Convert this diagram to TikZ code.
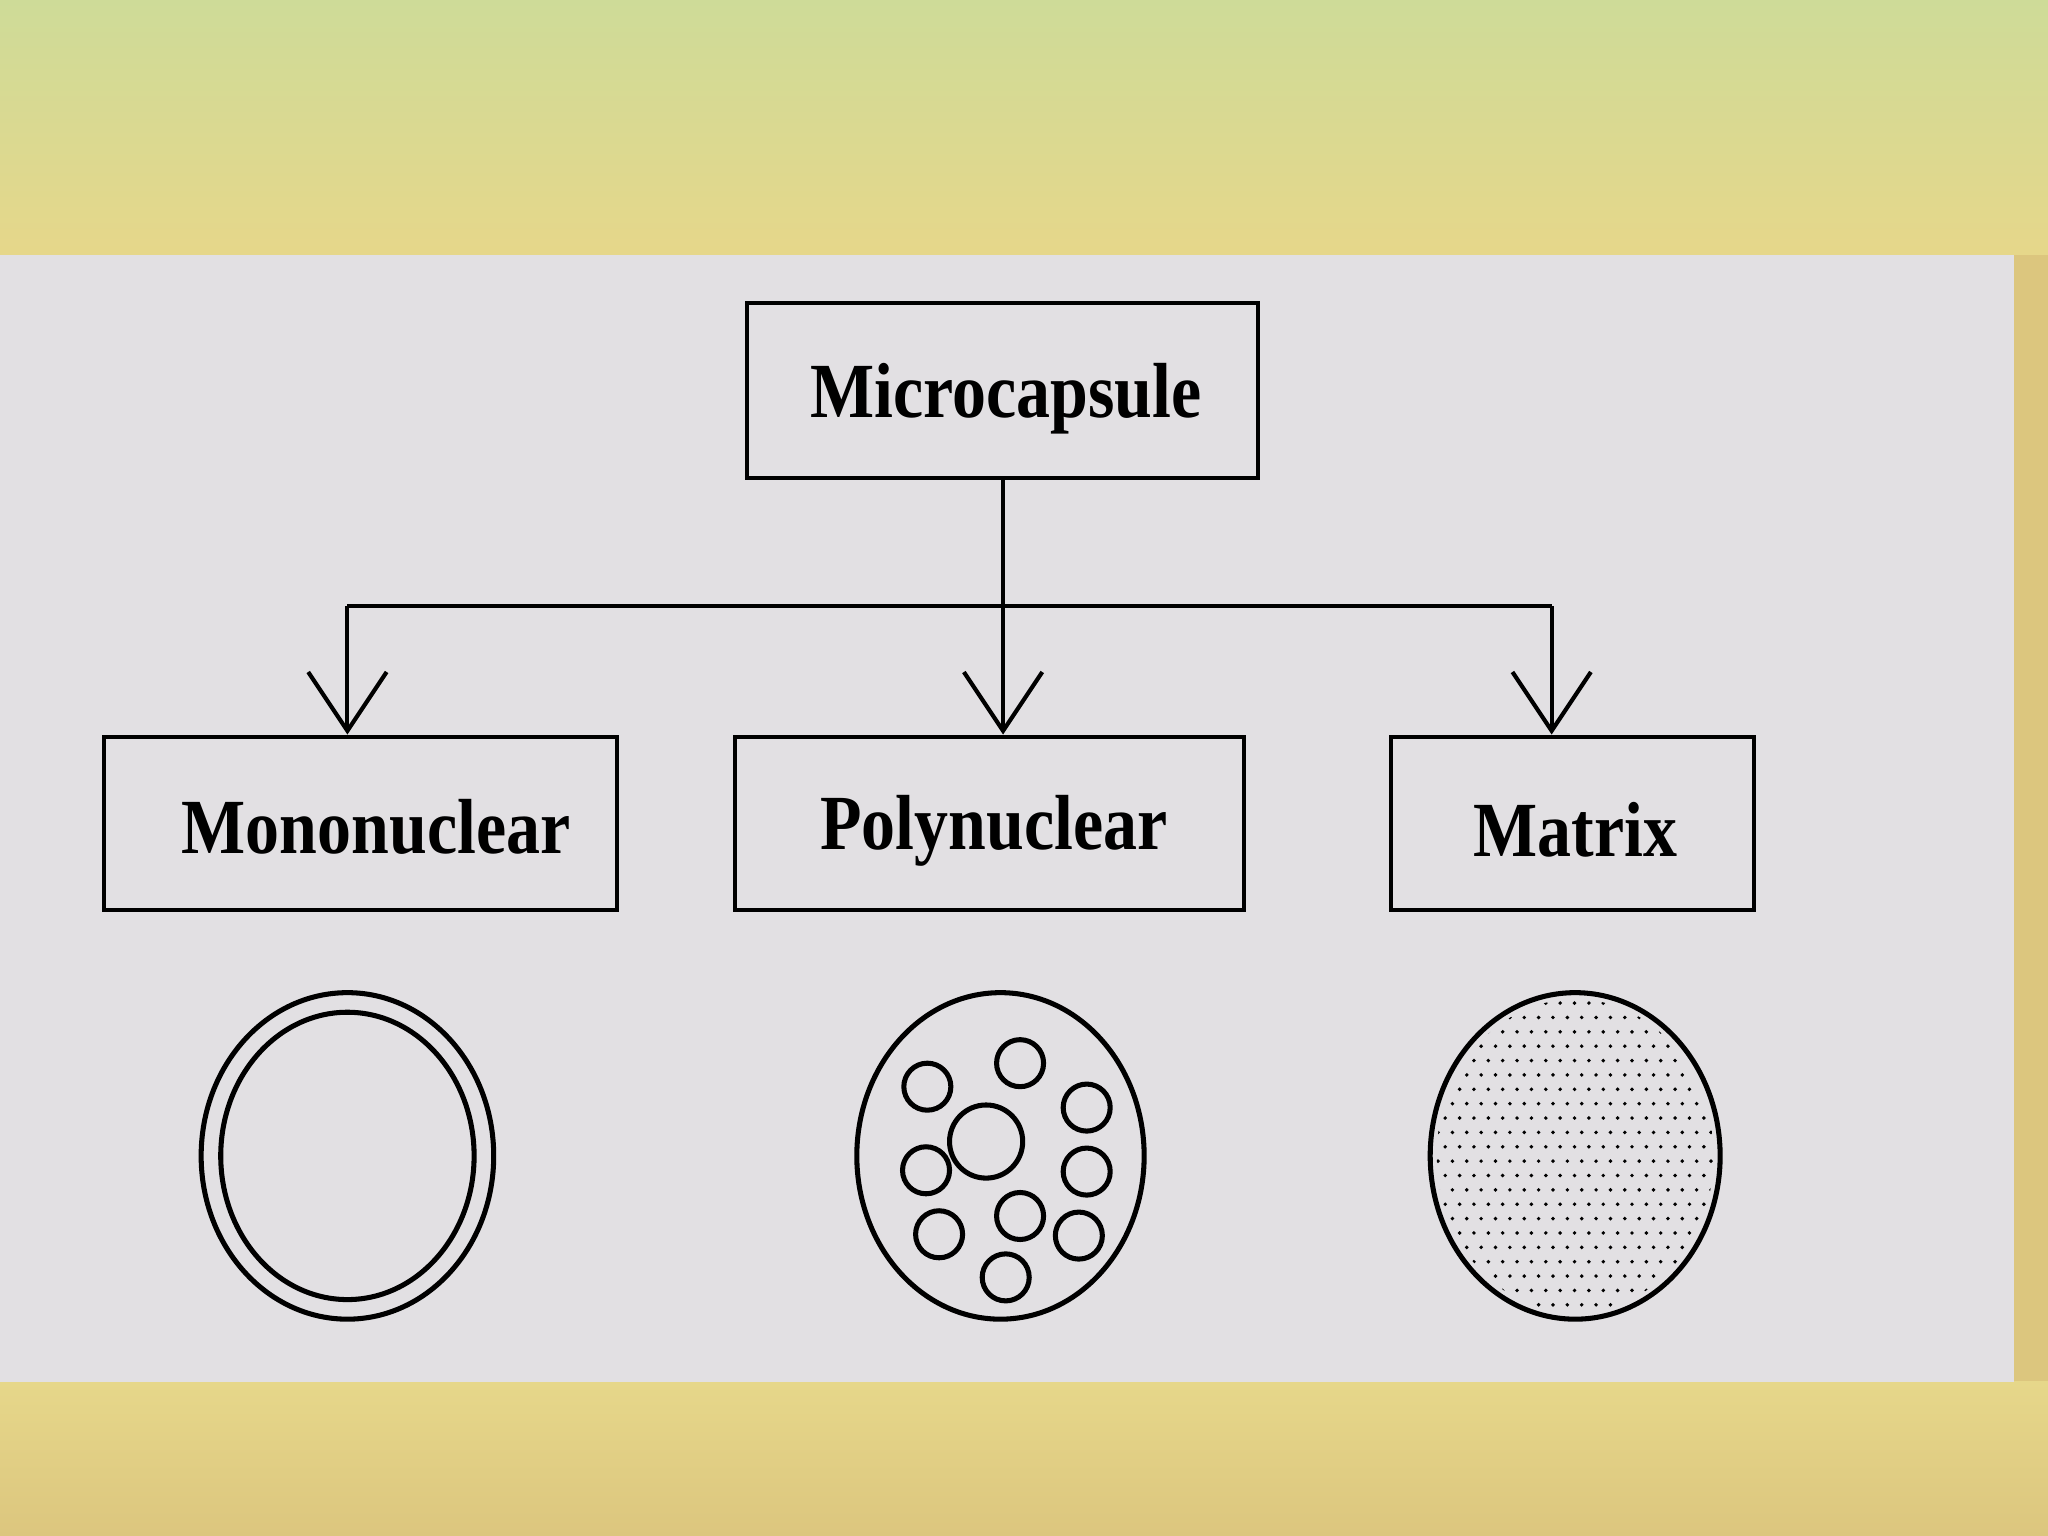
\documentclass[tikz,border=0pt]{standalone}
\usepackage{fontspec}
\setmainfont{Liberation Serif}
\usetikzlibrary{arrows.meta}
\definecolor{panel}{HTML}{E2E0E3}
\definecolor{topg}{HTML}{CEDB98}
\definecolor{topy}{HTML}{E6D78A}
\definecolor{gold}{HTML}{DCC67E}
\begin{document}
\begin{tikzpicture}[x=0.01cm,y=-0.01cm,
  box/.style={draw,line width=0.9pt,inner sep=0pt},
  lbl/.style={font=\fontsize{17}{20}\selectfont\bfseries,xscale=0.87},
  conn/.style={line width=0.9pt,-{Straight Barb[length=0.45cm,width=0.6cm,line width=0.9pt]}},
  ring/.style={line width=1.1pt}]
\useasboundingbox (0,0) rectangle (1568,1176);
\shade[top color=topg,bottom color=topy] (0,0) rectangle (1568,195);
\fill[gold] (0,195) rectangle (1568,1176);
\shade[top color=topy,bottom color=gold] (0,1058) rectangle (1568,1176);
\fill[panel] (0,195) rectangle (1542,1058);
% boxes
\node[box,minimum width=3.91cm,minimum height=1.34cm] (top) at (767.5,299) {};
\node[lbl] at (770,305) {Microcapsule};
\node[box,minimum width=3.92cm,minimum height=1.33cm] (mono) at (276,630.5) {};
\node[lbl] at (288,633) {Mononuclear};
\node[box,minimum width=3.89cm,minimum height=1.33cm] (poly) at (757.5,630.5) {};
\node[lbl] at (761,636) {Polynuclear};
\node[box,minimum width=2.78cm,minimum height=1.33cm] (mat) at (1204,630.5) {};
\node[lbl] at (1206,635) {Matrix};
\coordinate (j) at (768,464);
\coordinate (jl) at (266,464);
\coordinate (jr) at (1188,464);
\draw[line width=0.9pt] (top.south -| j) -- (j);
\draw[line width=0.9pt] (jl) -- (jr);
\draw[conn] (j) -- (j |- poly.north);
\draw[conn] (jl) -- (jl |- mono.north);
\draw[conn] (jr) -- (jr |- mat.north);
% mononuclear
\draw[ring] (266,885) ellipse [x radius=112,y radius=125];
\draw[ring] (266,885) ellipse [x radius=97,y radius=110];
% polynuclear
\draw[ring] (766,885) ellipse [x radius=110,y radius=125];
\foreach \p in {(710,832),(781,814),(832,848),(709,896),(832,897),(719,945),(781,931),(826,946),(770,978)}
  \draw[ring] \p circle [radius=18];
\draw[ring] (755,874) circle [radius=28];
% matrix
\begin{scope}
\clip (1206,885) ellipse [x radius=106,y radius=120];
\foreach \r in {0,...,23} \foreach \c in {0,...,21}{
  \pgfmathsetmacro\xx{1090+\c*11+mod(\r,2)*5.5}
  \pgfmathsetmacro\yy{757+\r*11}
  \fill (\xx,\yy) circle [radius=1.5];}
\end{scope}
\draw[ring] (1206,885) ellipse [x radius=111,y radius=125];
\end{tikzpicture}
\end{document}
